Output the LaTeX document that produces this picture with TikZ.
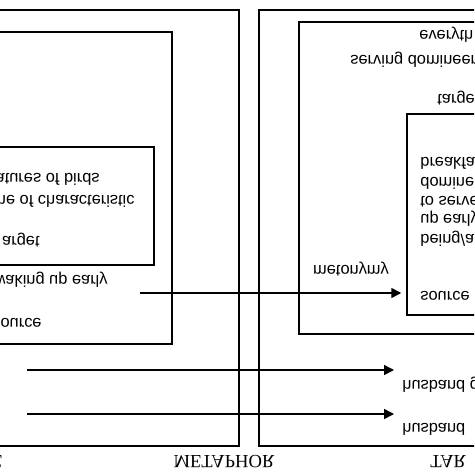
\documentclass[tikz,border=0pt]{standalone}
\usepackage{fontspec}
\setmainfont{Liberation Sans}
\newfontfamily\headfont{Liberation Serif}
\usetikzlibrary{arrows.meta,fit}
\tikzset{
  mbox/.style   ={draw, line width=0.75pt, inner sep=0pt},
  mtext/.style  ={font=\fontsize{8.2}{9.8}\selectfont, inner sep=0pt, transform shape,
                  text height=0.7em, text depth=0.2em},
  mhead/.style  ={font=\headfont\fontsize{9.3}{11}\selectfont, inner sep=0pt, transform shape},
  marrow/.style ={-{Triangle[length=5pt,width=5pt]}, line width=0.75pt},
}

\begin{document}
\begin{tikzpicture}[x=0.5pt, y=0.5pt, yscale=-1]
  \useasboundingbox (0,0) rectangle (474,474);
  \clip (0,0) rectangle (474,474);
  % metaphor side boxes
  \coordinate (lo1) at (-10,10);  \coordinate (lo2) at (239,446);
  \coordinate (lm1) at (-10,32);  \coordinate (lm2) at (172,344);
  \coordinate (li1) at (-10,147); \coordinate (li2) at (154,265);
  \node[mbox, fit=(lo1)(lo2)] (metaOuter) {};
  \node[mbox, fit=(lm1)(lm2)] (metaSrc) {};
  \node[mbox, fit=(li1)(li2)] (metaTgt) {};
  % target side boxes
  \coordinate (ro1) at (259,10);  \coordinate (ro2) at (484,446);
  \coordinate (rm1) at (299,22);  \coordinate (rm2) at (484,334);
  \coordinate (ri1) at (407,114); \coordinate (ri2) at (484,315);
  \node[mbox, fit=(ro1)(ro2)] (tgtOuter) {};
  \node[mbox, fit=(rm1)(rm2)] (tgtTgt) {};
  \node[mbox, fit=(ri1)(ri2)] (tgtSrc) {};
  % texts, left
  \node[mtext, anchor=east] (birds) at (100,179) {atures of birds};
  \node[mtext, anchor=east] (charac) at (135,201) {ne of characteristic};
  \node[mtext, anchor=east] (ltgt) at (40,242) {arget};
  \node[mtext, anchor=east] (wake) at (108,281) {waking up early};
  \node[mtext, anchor=east] (lsrc) at (42,324) {ource};
  % texts, right
  \node[mtext, anchor=west] (every) at (419,36) {everyth};
  \node[mtext, anchor=west] (serving) at (350,61) {serving domineer};
  \node[mtext, anchor=west] (rtgt) at (437,100) {targe};
  \node[mtext, anchor=west] (brk) at (420,163) {breakfa};
  \node[mtext, anchor=west] (dom) at (420,183) {domine};
  \node[mtext, anchor=west] (serve) at (420,202) {to serve};
  \node[mtext, anchor=west] (upearly) at (420,220) {up early};
  \node[mtext, anchor=west] (being) at (420,240) {being/a};
  \node[mtext, anchor=west] (rsrc) at (420,297) {source};
  \node[mtext] (meto) at (351,271) {metonymy};
  \node[mtext, anchor=west] (husg) at (402,385) {husband g};
  \node[mtext, anchor=west] (hus) at (402,428) {husband};
  % column heads
  \node[mhead, anchor=east] (hleft) at (3,462) {E};
  \node[mhead] (hmeta) at (224,462) {METAPHOR};
  \node[mhead, anchor=west] (htgt) at (430,462) {TAR};
  % arrows
  \coordinate (mstart) at (140,293);
  \coordinate (h1start) at (27,370);
  \coordinate (h2start) at (27,414);
  \draw[marrow, shorten >=2.5pt] (mstart) -- (mstart -| tgtSrc.west);
  \draw[marrow, shorten >=4pt] (h1start) -- (h1start -| husg.west);
  \draw[marrow, shorten >=4pt] (h2start) -- (h2start -| hus.west);
\end{tikzpicture}
\end{document}
